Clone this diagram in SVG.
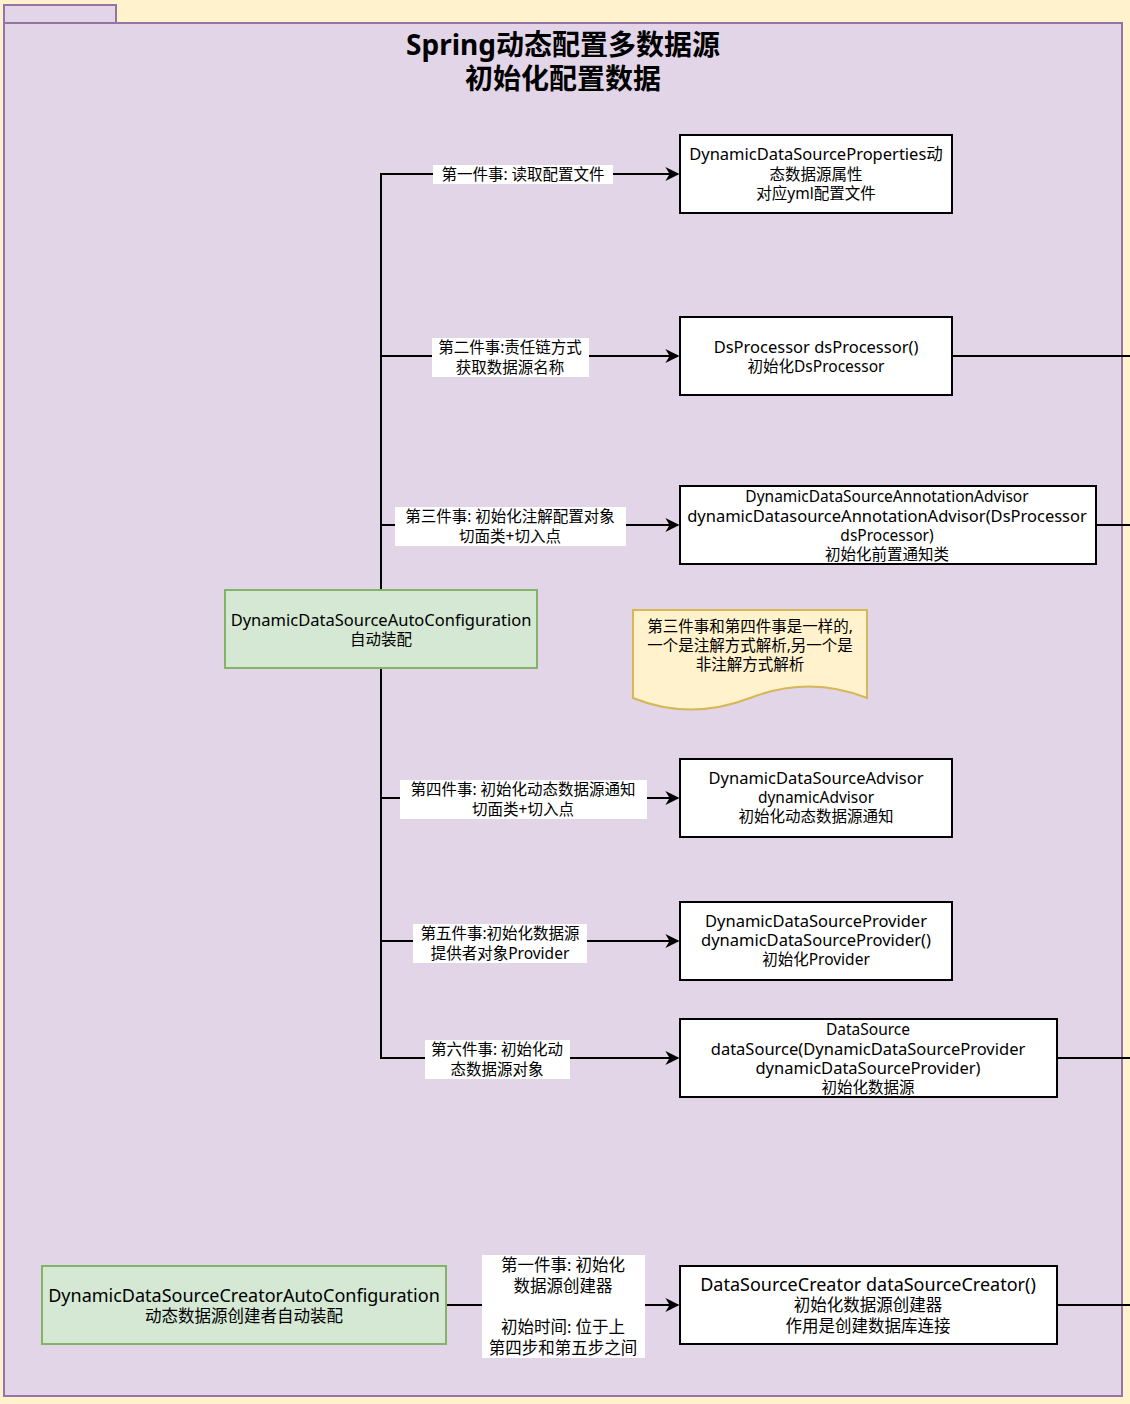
<svg xmlns="http://www.w3.org/2000/svg" width="1130" height="1404" viewBox="0 0 1130 1404">
<defs>
<marker id="a" viewBox="0 0 10 10" refX="9" refY="5" markerWidth="7" markerHeight="7" orient="auto"><path d="M0,0 L10,5 L0,10 L3,5 Z" fill="#000"/></marker>
<style>
text{font-family:"Noto Sans","Noto Sans CJK SC",sans-serif;font-size:15.5px;fill:#000;text-anchor:middle}
.t{font-size:28px;font-weight:bold}
.b{fill:#fff;stroke:#000;stroke-width:2}
.g{fill:#d5e8d4;stroke:#82b366;stroke-width:2}
.l{fill:none;stroke:#000;stroke-width:2}
.lb{fill:#fff}
</style>
</defs>
<rect width="1130" height="1404" fill="#fff2cc"/>
<g id="frame">
<rect x="4" y="5" width="112" height="18" fill="#e1d5e7" stroke="#9673a6" stroke-width="2"/>
<rect x="4" y="23" width="1118" height="1373" fill="#e1d5e7" stroke="#9673a6" stroke-width="2"/>
<text class="t" x="563" y="55">Spring动态配置多数据源</text>
<text class="t" x="563" y="89">初始化配置数据</text>
</g>
<g id="connectors">
<path class="l" d="M381,590 V174 H678" marker-end="url(#a)"/>
<path class="l" d="M381,356 H678" marker-end="url(#a)"/>
<path class="l" d="M381,525 H678" marker-end="url(#a)"/>
<path class="l" d="M381,668 V1058 H678" marker-end="url(#a)"/>
<path class="l" d="M381,798 H678" marker-end="url(#a)"/>
<path class="l" d="M381,941 H678" marker-end="url(#a)"/>
<path class="l" d="M446,1305 H678" marker-end="url(#a)"/>
<path class="l" d="M953,356 H1130 M1096,525 H1130 M1057,1058 H1130 M1057,1305 H1130"/>
<rect class="lb" x="433" y="165" width="180" height="19"/><text x="523" y="180">第一件事: 读取配置文件</text>
<rect class="lb" x="432" y="338" width="157" height="39"/><text x="510" y="353">第二件事:责任链方式</text><text x="510" y="373">获取数据源名称</text>
<rect class="lb" x="395" y="507" width="231" height="39"/><text x="510" y="522">第三件事: 初始化注解配置对象</text><text x="510" y="542">切面类+切入点</text>
<rect class="lb" x="400" y="780" width="247" height="39"/><text x="523" y="795">第四件事: 初始化动态数据源通知</text><text x="523" y="815">切面类+切入点</text>
<rect class="lb" x="413" y="924" width="174" height="39"/><text x="500" y="939">第五件事:初始化数据源</text><text x="500" y="959">提供者对象Provider</text>
<rect class="lb" x="425" y="1040" width="145" height="39"/><text x="497" y="1055">第六件事: 初始化动</text><text x="497" y="1075">态数据源对象</text>
<rect class="lb" x="482" y="1255" width="163" height="103"/>
<text x="563" y="1271" style="font-size:16.5px">第一件事: 初始化</text><text x="563" y="1292" style="font-size:16.5px">数据源创建器</text>
<text x="563" y="1333" style="font-size:16.5px">初始时间: 位于上</text><text x="563" y="1354" style="font-size:16.5px">第四步和第五步之间</text>
</g>
<g id="auto"><rect class="g" x="225" y="590" width="312" height="78"/><text x="381" y="626" style="font-size:16.5px">DynamicDataSourceAutoConfiguration</text><text x="381" y="645">自动装配</text></g>
<g id="props"><rect class="b" x="680" y="135" width="272" height="78"/><text x="816" y="160" style="font-size:16.5px">DynamicDataSourceProperties动</text><text x="816" y="180">态数据源属性</text><text x="816" y="199">对应yml配置文件</text></g>
<g id="ds"><rect class="b" x="680" y="317" width="272" height="78"/><text x="816" y="353" style="font-size:16.5px">DsProcessor dsProcessor()</text><text x="816" y="372">初始化DsProcessor</text></g>
<g id="anno"><rect class="b" x="680" y="486" width="416" height="78"/><text x="887" y="502">DynamicDataSourceAnnotationAdvisor</text><text x="887" y="522" style="font-size:16.5px">dynamicDatasourceAnnotationAdvisor(DsProcessor</text><text x="887" y="541">dsProcessor)</text><text x="887" y="560">初始化前置通知类</text></g>
<g id="note"><path d="M633,610 H867 V698 Q810,675 750,698 T633,698 Z" fill="#fff2cc" stroke="#d6b656" stroke-width="2"/><text x="750" y="632">第三件事和第四件事是一样的,</text><text x="750" y="651">一个是注解方式解析,另一个是</text><text x="750" y="670">非注解方式解析</text></g>
<g id="advisor"><rect class="b" x="680" y="759" width="272" height="78"/><text x="816" y="784" style="font-size:16.5px">DynamicDataSourceAdvisor</text><text x="816" y="803">dynamicAdvisor</text><text x="816" y="822">初始化动态数据源通知</text></g>
<g id="provider"><rect class="b" x="680" y="902" width="272" height="78"/><text x="816" y="927" style="font-size:16.5px">DynamicDataSourceProvider</text><text x="816" y="946" style="font-size:16.5px">dynamicDataSourceProvider()</text><text x="816" y="965">初始化Provider</text></g>
<g id="datasource"><rect class="b" x="680" y="1019" width="377" height="78"/><text x="868" y="1035">DataSource</text><text x="868" y="1055" style="font-size:16.5px">dataSource(DynamicDataSourceProvider</text><text x="868" y="1074" style="font-size:16.5px">dynamicDataSourceProvider)</text><text x="868" y="1093">初始化数据源</text></g>
<g id="creatorAuto"><rect class="g" x="42" y="1266" width="404" height="78"/><text x="244" y="1302" style="font-size:18px">DynamicDataSourceCreatorAutoConfiguration</text><text x="244" y="1322" style="font-size:16.5px">动态数据源创建者自动装配</text></g>
<g id="creator"><rect class="b" x="680" y="1266" width="377" height="78"/><text x="868" y="1291" style="font-size:18px">DataSourceCreator dataSourceCreator()</text><text x="868" y="1311" style="font-size:16.5px">初始化数据源创建器</text><text x="868" y="1332" style="font-size:16.5px">作用是创建数据库连接</text></g>
</svg>
